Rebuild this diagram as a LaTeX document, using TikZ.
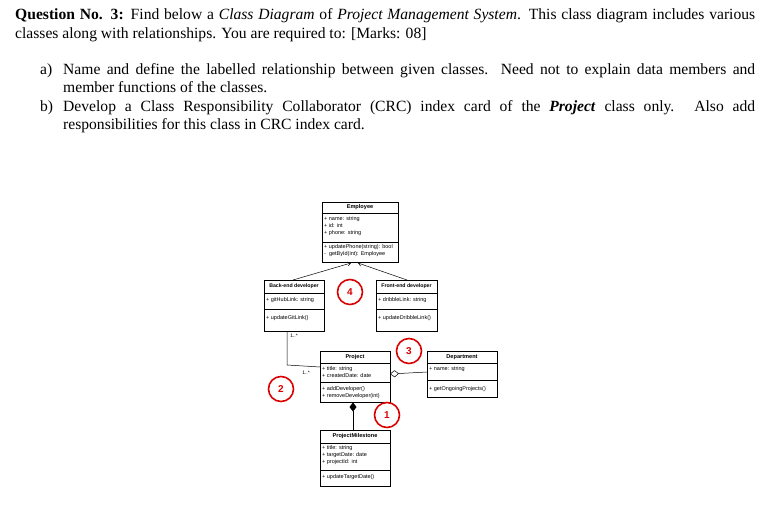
\documentclass[tikz,border=0pt]{standalone}
\usepackage{fontspec}
\setmainfont{Liberation Serif}
\newfontfamily\dgf{Liberation Sans}
\usetikzlibrary{arrows.meta}
\begin{document}
\begin{tikzpicture}[x=1pt,y=-1pt,
  hdr/.style={anchor=base west,inner sep=0pt,font=\fontsize{15.6}{18}\selectfont},
  cls/.style={draw,anchor=north west,inner sep=0pt,line width=0.5pt},
  ttl/.style={inner sep=0pt,font=\dgf\bfseries\fontsize{5.6}{6}\selectfont},
  mem/.style={anchor=west,inner sep=0pt,align=left,font=\dgf\fontsize{5.5}{7}\selectfont},
  lab/.style={circle,draw=red!85!black,line width=1.6pt,minimum size=25pt,inner sep=0pt,text=red!85!black,font=\dgf\bfseries\fontsize{10}{10}\selectfont},
  ln/.style={line width=0.5pt}]
\useasboundingbox (0,0) rectangle (769,504);
% header
\node[hdr] (l1) at (15,19) {\makebox[740pt][s]{\textbf{Question No. 3:} Find below a \textit{Class Diagram} of \textit{Project Management System}. This class diagram includes various}};
\node[hdr] (l2) at (15,38) {classes along with relationships. You are required to: [Marks: 08]};
\node[hdr] (a) at (40,74) {a)};
\node[hdr] (a1) at (63,74) {\makebox[692pt][s]{Name and define the labelled relationship between given classes. Need not to explain data members and}};
\node[hdr] (a2) at (63,92) {member functions of the classes.};
\node[hdr] (b) at (40,111) {b)};
\node[hdr] (b1) at (63,111) {\makebox[692pt][s]{Develop a Class Responsibility Collaborator (CRC) index card of the \textbf{\textit{Project}} class only. Also add}};
\node[hdr] (b2) at (63,129) {responsibilities for this class in CRC index card.};
% Employee
\node[cls,minimum width=76pt,minimum height=60pt] (emp) at (322,202) {};
\draw[ln] (322,213)--(398,213) (322,242)--(398,242);
\node[ttl] at (360,207.5) {Employee};
\node[mem] at (324,226) {+ name: string\\+ id: int\\+ phone: string};
\node[mem] at (324,251) {+ updatePhone(string): bool\\-\ \ getById(int): Employee};
% Back-end
\node[cls,minimum width=60pt,minimum height=51pt] (be) at (264,280) {};
\draw[ln] (264,293)--(324,293) (264,309)--(324,309);
\node[ttl,font=\dgf\bfseries\fontsize{5.2}{6}\selectfont] at (294,286.5) {Back-end developer};
\node[mem] at (266,300) {+ gitHubLink: string};
\node[mem] at (266,318) {+ updateGitLink()};
% Front-end
\node[cls,minimum width=61pt,minimum height=51pt] (fe) at (376,280) {};
\draw[ln] (376,293)--(437,293) (376,309)--(437,309);
\node[ttl,font=\dgf\bfseries\fontsize{5.2}{6}\selectfont] at (406.5,286.5) {Front-end developer};
\node[mem] at (378,300) {+ dribbleLink: string};
\node[mem] at (378,318) {+ updateDribbleLink()};
% Project
\node[cls,minimum width=70pt,minimum height=51pt] (prj) at (320,351) {};
\draw[ln] (320,363)--(390,363) (320,382)--(390,382);
\node[ttl] at (355,357) {Project};
\node[mem] at (322,372.5) {+ title: string\\+ createdDate: date};
\node[mem] at (322,392.5) {+ addDeveloper()\\+ removeDeveloper(int)};
% Department
\node[cls,minimum width=70pt,minimum height=46pt] (dep) at (427,351) {};
\draw[ln] (427,363)--(497,363) (427,380)--(497,380);
\node[ttl] at (462,357) {Department};
\node[mem] at (429,369) {+ name: string};
\node[mem] at (429,389) {+ getOngoingProjects()};
% ProjectMilestone
\node[cls,minimum width=70pt,minimum height=56pt] (pm) at (320,430) {};
\draw[ln] (320,443)--(390,443) (320,470)--(390,470);
\node[ttl] at (355,436.5) {ProjectMilestone};
\node[mem] at (322,455) {+ title: string\\+ targetDate: date\\+ projectId: int};
\node[mem] at (322,477.5) {+ updateTargetDate()};
% relations
\coordinate (e1) at (351,263);
\coordinate (e2) at (358,263);
\draw[ln,-{Straight Barb[length=3pt,width=4pt]}] (293,280) -- (e1);
\draw[ln,-{Straight Barb[length=3pt,width=4pt]}] (407,280) -- (e2);
\coordinate (bk) at (287,365);
\draw[ln] (287,331) -- (bk) -- (prj.west |- 0,367);
\node[font=\dgf\fontsize{5}{5}\selectfont,inner sep=0pt] (m1) at (294,336) {1..*};
\node[font=\dgf\fontsize{5}{5}\selectfont,inner sep=0pt] (m2) at (306,373) {1..*};
\draw[ln,{Diamond[open,length=9pt,width=7pt]}-] (390,374) -- (dep.west |- 0,372);
\draw[ln,{Diamond[length=9pt,width=7pt]}-] (prj.south -| 353,0) -- (pm.north -| 353,0);
% labels
\node[lab] (c4) at (350,292) {4};
\node[lab] (c2) at (281,389) {2};
\node[lab] (c3) at (409,351) {3};
\node[lab] (c1) at (387,415) {1};
\end{tikzpicture}
\end{document}
